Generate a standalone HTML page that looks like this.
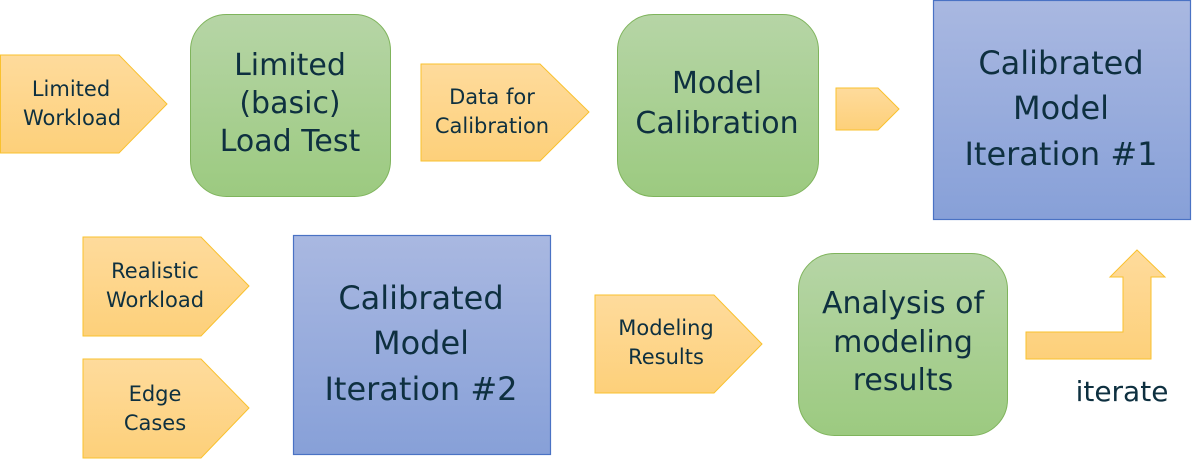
<!DOCTYPE html>
<html><head><meta charset="utf-8"><style>
html,body{margin:0;padding:0;background:#fff}
svg{display:block}
text{font-family:"DejaVu Sans","Liberation Sans",sans-serif;fill:#0e3040;text-anchor:middle}
</style></head><body>
<svg width="1199" height="459" viewBox="0 0 1199 459" xmlns="http://www.w3.org/2000/svg">
<defs>
<linearGradient id="o" x1="0" y1="0" x2="0" y2="1"><stop offset="0" stop-color="#fedb9c"/><stop offset="1" stop-color="#fdd07a"/></linearGradient>
<linearGradient id="g" x1="0" y1="0" x2="0" y2="1"><stop offset="0" stop-color="#b6d5a6"/><stop offset="1" stop-color="#9cca80"/></linearGradient>
<linearGradient id="b" x1="0" y1="0" x2="0" y2="1"><stop offset="0" stop-color="#a9b8e1"/><stop offset="1" stop-color="#87a0d8"/></linearGradient>
</defs>
<g fill="url(#o)" stroke="#f9c12e" stroke-width="1">
<polygon points="0.5,55 119,55 167,104 119,153 0.5,153"/>
<polygon points="421,64 540,64 589,112 540,161 421,161"/>
<polygon points="836,88 878,88 899,109 878,130 836,130"/>
<polygon points="83,237 201,237 249,286 201,336 83,336"/>
<polygon points="83,359 201,359 249,408 201,458 83,458"/>
<polygon points="595,295 714,295 762,344 714,393 595,393"/>
<polygon points="1026,332 1123,332 1123,277 1110,277 1137,250 1165,277 1151,277 1151,359 1026,359"/>
</g>
<g fill="url(#g)" stroke="#7fb45c" stroke-width="1">
<rect x="190.5" y="14.5" width="200" height="182" rx="36"/>
<rect x="617.5" y="14.5" width="201" height="182" rx="36"/>
<rect x="798.5" y="253.5" width="209" height="182" rx="36"/>
</g>
<g fill="url(#b)" stroke="#4a72c4" stroke-width="1.2">
<rect x="933.5" y="0.5" width="257" height="219"/>
<rect x="293.5" y="235.5" width="257" height="219"/>
</g>
<g font-size="21">
<text x="71" y="96">Limited</text><text x="72" y="125">Workload</text>
<text x="492" y="104">Data for</text><text x="492" y="133">Calibration</text>
<text x="155" y="278">Realistic</text><text x="155" y="307">Workload</text>
<text x="155" y="401">Edge</text><text x="155" y="430">Cases</text>
<text x="666" y="335">Modeling</text><text x="666" y="364">Results</text>
</g>
<g font-size="30">
<text x="290" y="75">Limited</text><text x="290" y="113">(basic)</text><text x="290" y="151">Load Test</text>
<text x="717" y="93">Model</text><text x="717" y="133">Calibration</text>
<text x="903" y="313">Analysis of</text><text x="903" y="352">modeling</text><text x="903" y="390">results</text>
</g>
<g font-size="32">
<text x="1061" y="74">Calibrated</text><text x="1061" y="119">Model</text><text x="1061" y="165">Iteration  #1</text>
<text x="421" y="309">Calibrated</text><text x="421" y="354">Model</text><text x="421" y="400">Iteration  #2</text>
</g>
<text x="1122" y="401" font-size="28">iterate</text>
</svg>
</body></html>
